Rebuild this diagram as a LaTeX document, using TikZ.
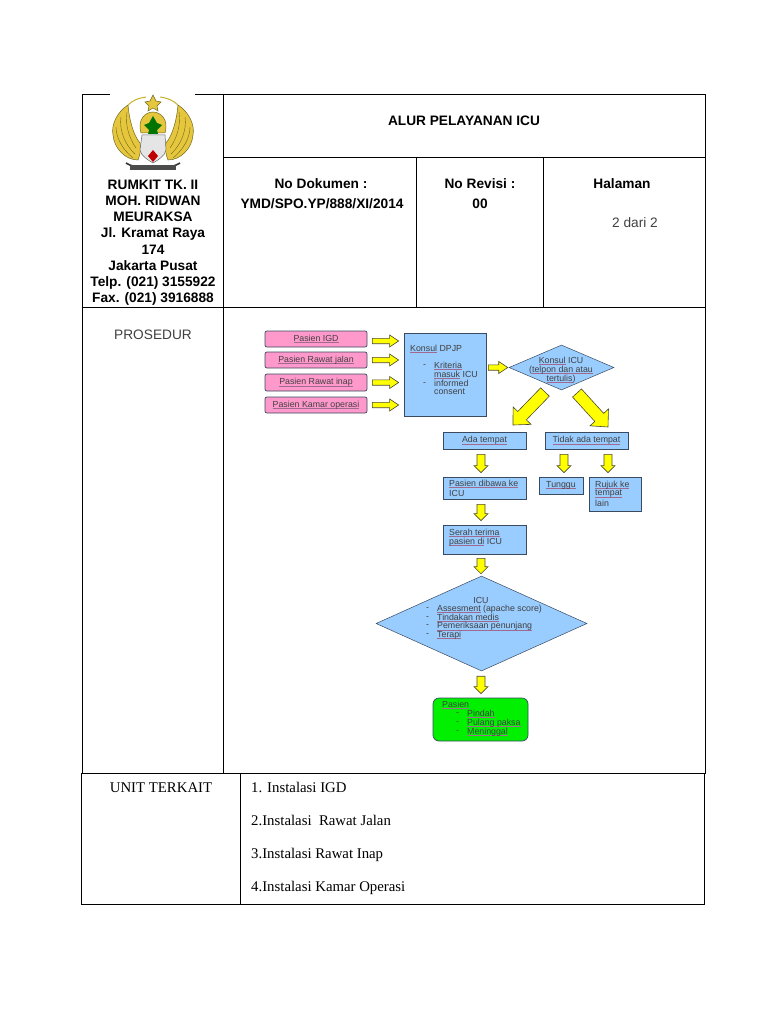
\documentclass[tikz,border=0pt]{standalone}
\usepackage{fontspec}
\setmainfont{Liberation Sans}
\newfontfamily\serifteks{Liberation Serif}
\usetikzlibrary{shapes.geometric,calc}
\definecolor{pinkbox}{HTML}{FF99CC}
\definecolor{birubox}{HTML}{99CCFF}
\definecolor{hijaubox}{HTML}{00F000}
\definecolor{garisbox}{HTML}{3A4A60}
\definecolor{kuning}{HTML}{FFFF00}
\definecolor{emas}{HTML}{E6C63C}
\definecolor{garisbawah}{HTML}{A06A90}
\newcommand{\salah}[1]{\leavevmode\setbox0=\hbox{#1}\rlap{\textcolor{garisbawah}{\rule[-1.2pt]{\wd0}{.35pt}}}\box0 }
\tikzset{
    pinkitem/.style={draw=garisbox, fill=pinkbox, rounded corners=2pt, line width=0.7pt, minimum width=102, minimum height=16, inner sep=0pt, font=\fontsize{8.8}{9}\selectfont, text=black!75},
    biruitem/.style={draw=garisbox, fill=birubox, line width=0.7pt, inner sep=0pt, font=\fontsize{8.8}{9}\selectfont, text=black!75},
    wajik/.style={draw=garisbox, fill=birubox, line width=0.5pt, diamond, aspect=2.2, inner sep=0pt},
    teks/.style={anchor=west, inner sep=0pt, yshift=-1pt, font=\fontsize{8.8}{9}\selectfont, text=black!75},
    judul/.style={inner sep=0pt, yshift=-1pt, font=\fontsize{13.7}{15}\selectfont\bfseries},
    biasa/.style={inner sep=0pt, yshift=-1pt, font=\fontsize{13.7}{15}\selectfont, text=black!75},
    serifnode/.style={anchor=west, inner sep=0pt, font=\fontsize{14.8}{16}\selectfont\serifteks},
    panah/.style n args={5}{draw=black!60!olive, fill=kuning, line width=0.6pt, to path={
        ($(\tikztostart)!#4!(\tikztotarget)$) coordinate (pa)
        ($(\tikztotarget)!#5!(\tikztostart)$) coordinate (pb)
        ($(pb)!#3!(pa)$) coordinate (pc)
        ($(pa)!#1!90:(pb)$) -- ($(pc)!#1!90:(pb)$) -- ($(pc)!#2!90:(pb)$) -- (pb)
        -- ($(pc)!#2!-90:(pb)$) -- ($(pc)!#1!-90:(pb)$) -- ($(pa)!#1!-90:(pb)$) -- cycle}},
    panahh/.style={panah={2.7pt}{6pt}{9pt}{5pt}{5pt}},
    panahv/.style={panah={4pt}{7pt}{7pt}{5pt}{4pt}},
    panahd/.style={panah={6pt}{12.5pt}{13pt}{0pt}{0pt}},
}
\begin{document}
\begin{tikzpicture}[x=1pt, y=-1pt]
    \useasboundingbox (0,0) rectangle (768,1024);
    \draw[line width=0.7pt] (82,94) rectangle (705,773);
    \draw[line width=0.7pt] (223,94) -- (223,773);
    \draw[line width=0.7pt] (223,157) -- (705,157);
    \draw[line width=0.7pt] (416,157) -- (416,307);
    \draw[line width=0.7pt] (543,157) -- (543,307);
    \draw[line width=0.7pt] (82,307) -- (705,307);
    \draw[line width=0.9pt] (81,773) rectangle (704,904);
    \draw[line width=0.9pt] (240,773) -- (240,904);

    \fill[white] (110,90) rectangle (195,172);
    \foreach \s in {1,-1} {
        \begin{scope}[shift={(153,0)}, xscale=\s]
            \draw[fill=emas, draw=olive!70!black, line width=0.5pt] (25,105) .. controls (36,112) and (42,125) .. (40,135) .. controls (39,148) and (28,160) .. (15,160) .. controls (12,152) and (12,148) .. (13,143) .. controls (20,135) and (24,118) .. (25,105);
            \draw[olive!70!black, line width=0.4pt] (26,112) .. controls (28,125) and (24,138) .. (17,148);
            \draw[olive!70!black, line width=0.4pt] (32,117) .. controls (34,130) and (28,145) .. (18,154);
            \draw[olive!70!black, line width=0.4pt] (37,127) .. controls (37,138) and (30,150) .. (20,158);
            \draw[emas!70!olive, line width=1pt] (25,105) .. controls (20,100) and (14,98) .. (7,97);
            \draw[black!80, line width=1.6pt] (8,168) .. controls (16,168) and (22,166) .. (27,163);
        \end{scope}
    }
    \fill[black!70] (130,165) rectangle (176,170);
    \draw[fill=emas, draw=olive!70!black, line width=0.5pt] (153,95) -- (156,101) -- (161,102) -- (157,106) -- (158,111) -- (153,108) -- (148,111) -- (149,106) -- (145,102) -- (150,101) -- cycle;
    \draw[fill=emas, draw=olive!70!black, line width=0.5pt] (141,133) .. controls (137,120) and (145,112) .. (153,112) .. controls (161,112) and (169,120) .. (165,133) -- cycle;
    \fill[green!45!black] (153,116) -- (157,123) -- (162,125) -- (157,130) -- (158,134) -- (148,134) -- (149,130) -- (144,125) -- (149,123) -- cycle;
    \draw[fill=black!10, draw=black!60, line width=0.5pt] (142,135) -- (165,135) -- (166,150) .. controls (165,156) and (158,160) .. (153,163) .. controls (148,160) and (141,156) .. (140,150) -- cycle;
    \fill[red!75!black] (153,150) -- (158,156) -- (153,162) -- (148,156) -- cycle;

    \node[judul] (rs1) at (153,184) {RUMKIT TK. II};
    \node[judul] (rs2) at (153,200) {MOH. RIDWAN};
    \node[judul] (rs3) at (153,216) {MEURAKSA};
    \node[judul] (rs4) at (153,233) {Jl. Kramat Raya};
    \node[judul] (rs5) at (153,249) {174};
    \node[judul] (rs6) at (153,265) {Jakarta Pusat};
    \node[judul] (rs7) at (153,282) {Telp. (021) 3155922};
    \node[judul] (rs8) at (153,298) {Fax. (021) 3916888};

    \node[judul] (alur) at (464,120) {ALUR PELAYANAN ICU};
    \node[judul] (nodok) at (321,183) {No Dokumen :};
    \node[judul] (ymd) at (322,203) {YMD/SPO.YP/888/XI/2014};
    \node[judul] (norev) at (480,183) {No Revisi :};
    \node[judul] (nol) at (480,203) {00};
    \node[judul] (hal) at (622,183) {Halaman};
    \node[biasa] (dari) at (635,222) {2 dari 2};
    \node[biasa] (prosedur) at (153,334) {PROSEDUR};

    \node[pinkitem] (igd) at (316,339) {\salah{Pasien IGD}};
    \node[pinkitem] (jalan) at (316,360) {\salah{Pasien Rawat jalan}};
    \node[pinkitem, minimum height=17] (inap) at (316,382.5) {\salah{Pasien Rawat inap}};
    \node[pinkitem] (kamar) at (316,405) {\salah{Pasien Kamar operasi}};

    \node[biruitem, minimum width=82, minimum height=83] (dpjp) at (445,374.5) {};
    \node[teks] (dpjp1) at (410,348) {\salah{Konsul} DPJP};
    \node[teks] (dpjp2) at (423,365) {-};
    \node[teks] (dpjp3) at (434,365) {\salah{Kriteria}};
    \node[teks] (dpjp4) at (434,374) {\salah{masuk} ICU};
    \node[teks] (dpjp5) at (423,383) {-};
    \node[teks] (dpjp6) at (434,382) {informed};
    \node[teks] (dpjp7) at (434,391) {consent};

    \node[wajik, minimum width=105, minimum height=45] (konsul) at (561.5,367.5) {};
    \node[teks, anchor=center, align=center] (konsul1) at (561,369) {\salah{Konsul} ICU\\[0.2pt](\salah{telpon dan atau}\\\salah{tertulis})};

    \node[biruitem, minimum width=83, minimum height=17] (ada) at (484.5,440.5) {\salah{Ada tempat}};
    \node[biruitem, minimum width=83, minimum height=17] (tidak) at (586.5,440.5) {\salah{Tidak ada tempat}};
    \node[biruitem, minimum width=83, minimum height=22] (dibawa) at (484.5,488) {};
    \node[teks] (dibawa1) at (449,483) {\salah{Pasien dibawa ke}};
    \node[teks] (dibawa2) at (449,492) {ICU};
    \node[biruitem, minimum width=44, minimum height=17] (tunggu) at (561,485.5) {};
    \node[teks] (tunggu1) at (546,484) {\salah{Tunggu}};
    \node[biruitem, minimum width=52, minimum height=34] (rujuk) at (615,494) {};
    \node[teks] (rujuk1) at (595,484) {\salah{Rujuk ke}};
    \node[teks] (rujuk2) at (595,493) {\salah{tempat}};
    \node[teks] (rujuk3) at (595,502) {lain};
    \node[biruitem, minimum width=83, minimum height=29] (serah) at (484.5,539.5) {};
    \node[teks] (serah1) at (449,532) {\salah{Serah terima}};
    \node[teks] (serah2) at (449,541) {\salah{pasien di} ICU};

    \node[wajik, minimum width=211, minimum height=95] (icu) at (481.5,623.5) {};
    \node[teks, anchor=center] (icu0) at (481,599) {ICU};
    \node[teks] (icu1) at (426,608) {-};
    \node[teks] (icu2) at (437,608) {\salah{Assesment} (apache score)};
    \node[teks] (icu3) at (426,617) {-};
    \node[teks] (icu4) at (437,617) {\salah{Tindakan medis}};
    \node[teks] (icu5) at (426,625.5) {-};
    \node[teks] (icu6) at (437,625.5) {\salah{Pemeriksaan penunjang}};
    \node[teks] (icu7) at (426,634) {-};
    \node[teks] (icu8) at (437,634) {\salah{Terapi}};

    \node[draw=garisbox, fill=hijaubox, rounded corners=6pt, line width=0.7pt, minimum width=95, minimum height=43, inner sep=0pt] (pasien) at (480.5,719.5) {};
    \node[teks] (pasien1) at (442,704) {\salah{Pasien}};
    \node[teks] (pasien2) at (456,713) {-};
    \node[teks] (pasien3) at (467,713) {\salah{Pindah}};
    \node[teks] (pasien4) at (456,722) {-};
    \node[teks] (pasien5) at (467,722) {\salah{Pulang paksa}};
    \node[teks] (pasien6) at (456,731) {-};
    \node[teks] (pasien7) at (467,731) {\salah{Meninggal}};

    \coordinate (igd0) at ([yshift=-2]igd.east);
    \draw[panahh] (igd0) to (igd0 -| dpjp.west);
    \draw[panahh] (jalan.east) to (jalan.east -| dpjp.west);
    \draw[panahh] (inap.east) to (inap.east -| dpjp.west);
    \draw[panahh] (kamar.east) to (kamar.east -| dpjp.west);
    \draw[panah={2.7pt}{6pt}{9pt}{2pt}{1pt}] (dpjp.east |- konsul.west) to (konsul.west);
    \coordinate (kiri1) at (545,392);
    \coordinate (kiri2) at (513,425);
    \coordinate (kanan1) at (577,393);
    \coordinate (kanan2) at (608,427);
    \draw[panahd] (kiri1) to (kiri2);
    \draw[panahd] (kanan1) to (kanan2);
    \coordinate (tengah0) at (481,449);
    \draw[panahv] (tengah0 |- ada.south) to (tengah0 |- dibawa.north);
    \draw[panahv] (tengah0 |- dibawa.south) to (tengah0 |- serah.north);
    \draw[panah={4pt}{7pt}{7pt}{4pt}{2pt}] (tengah0 |- serah.south) to (tengah0 |- icu.north);
    \draw[panahv] (tengah0 |- icu.south) to (tengah0 |- pasien.north);
    \coordinate (tunggu0) at ([xshift=3]tunggu.north);
    \coordinate (rujuk0) at ([xshift=-7]rujuk.north);
    \draw[panahv] (tunggu0 |- tidak.south) to (tunggu0);
    \draw[panahv] (rujuk0 |- tidak.south) to (rujuk0);

    \node[serifnode, anchor=center] (unit) at (161,788) {UNIT TERKAIT};
    \node[serifnode] (inst1) at (251,787) {1. Instalasi IGD};
    \node[serifnode] (inst2) at (251,820) {2.Instalasi~~Rawat Jalan};
    \node[serifnode] (inst3) at (251,855) {3.Instalasi Rawat Inap};
    \node[serifnode] (inst4) at (251,888) {4.Instalasi Kamar Operasi};
\end{tikzpicture}
\end{document}
